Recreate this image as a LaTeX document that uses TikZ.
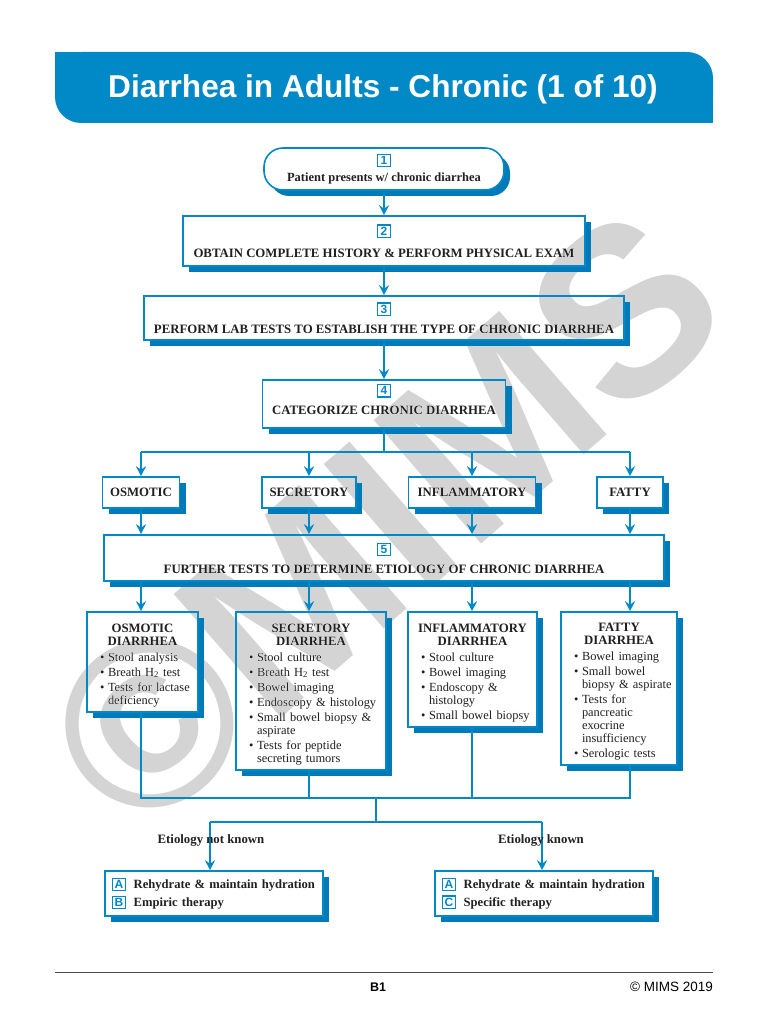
\documentclass[tikz,border=0pt]{standalone}
\usepackage{fontspec}
\setmainfont{Liberation Serif}
\newfontfamily\hv{Liberation Sans}
\usetikzlibrary{arrows.meta,shadows}
\definecolor{mainblue}{RGB}{0,137,198}
\definecolor{shadowblue}{RGB}{0,122,184}
\definecolor{txt}{RGB}{35,31,32}
\definecolor{wmgray}{RGB}{212,212,212}
\newcommand\bfont{\fontsize{12.8}{13}\selectfont\bfseries}
\newcommand\rfont{\fontsize{12.4}{13}\selectfont}
\newcommand\nbox[1]{{\setlength\fboxsep{1.5pt}\setlength\fboxrule{1.1pt}\fcolorbox{mainblue}{white}{\makebox[8.5pt]{\color{mainblue}\hv\fontsize{12}{12}\selectfont #1}}}}
\newcommand\bul[1]{\mbox{\makebox[8pt][l]{•}#1}}
\newcommand\cont[1]{\mbox{\hspace*{8pt}#1}}
\newcommand\ttl[1]{\makebox[\hsize]{\bfont #1}}
\newcommand\ttlA[1]{\makebox[\hsize]{\rule{0pt}{15pt}\bfont #1}}
\tikzset{
  bx/.style={draw=mainblue, line width=1.6pt, fill=white, text=txt,
    general shadow={fill=shadowblue, shadow xshift=6pt, shadow yshift=-6pt},
    inner sep=0pt, font=\bfont, align=center},
  dbx/.style={bx, align=left, inner xsep=13pt, font=\rfont},
  arr/.style={draw=mainblue, line width=2pt, -{Stealth[length=10pt,width=10pt,inset=3.5pt]}},
  ln/.style={draw=mainblue, line width=2pt},
  lbl/.style={font=\bfont, text=txt, inner sep=1pt}
}
\begin{document}
\begin{tikzpicture}[x=1pt,y=-1pt]
\useasboundingbox (0,0) rectangle (768,1024);
% header
\fill[mainblue, rounded corners=26pt] (55,52) rectangle (713,123);
\fill[mainblue] (55,52) rectangle (110,90);
\fill[mainblue] (660,90) rectangle (713,123);
\node[text=white, font=\hv\fontsize{31.6}{34}\selectfont\bfseries] (title) at (383,89) {Diarrhea in Adults - Chronic (1 of 10)};

% main boxes
\node[bx, rounded corners=19pt, minimum width=240pt, minimum height=42pt, font=\fontsize{12.5}{13}\selectfont\bfseries] (b1) at (384,169) {\nbox{1}\\[4pt] Patient presents w/ chronic diarrhea};
\node[bx, minimum width=402pt, minimum height=50pt] (b2) at (384,241) {\nbox{2}\\[9pt] OBTAIN COMPLETE HISTORY \& PERFORM PHYSICAL EXAM};
\node[bx, minimum width=480pt, minimum height=44pt] (b3) at (384,318) {\nbox{3}\\[7pt] PERFORM LAB TESTS TO ESTABLISH THE TYPE OF CHRONIC DIARRHEA};
\node[bx, minimum width=243pt, minimum height=48pt, text depth=9pt] (b4) at (384,404) {\nbox{4}\\[7pt] CATEGORIZE CHRONIC DIARRHEA};

% categories
\node[bx, minimum width=77pt, minimum height=31pt] (cosm) at (141,492.5) {OSMOTIC};
\node[bx, minimum width=94pt, minimum height=31pt] (csec) at (309,492.5) {SECRETORY};
\node[bx, minimum width=127pt, minimum height=31pt] (cinf) at (472,492.5) {INFLAMMATORY};
\node[bx, minimum width=66pt, minimum height=31pt] (cfat) at (630,492.5) {FATTY};

\node[bx, minimum width=560pt, minimum height=46pt] (b5) at (384,558) {\nbox{5}\\[7pt] FURTHER TESTS TO DETERMINE ETIOLOGY OF CHRONIC DIARRHEA};

% detail boxes
\node[dbx, minimum width=111pt, text width=85pt, minimum height=100pt] (dosm) at (142.5,662) {%
\ttlA{OSMOTIC}\\ \ttl{DIARRHEA}\\[3pt]
\bul{Stool analysis}\\[2pt]
\bul{Breath H\textsubscript{2} test}\\[2pt]
\bul{Tests for lactase}\\
\cont{deficiency}};
\node[dbx, minimum width=150pt, text width=124pt, minimum height=158pt] (dsec) at (311,691) {%
\ttlA{SECRETORY}\\ \ttl{DIARRHEA}\\[3pt]
\bul{Stool culture}\\[2pt]
\bul{Breath H\textsubscript{2} test}\\[2pt]
\bul{Bowel imaging}\\[2pt]
\bul{Endoscopy \& histology}\\[2pt]
\bul{Small bowel biopsy \&}\\
\cont{aspirate}\\[2pt]
\bul{Tests for peptide}\\
\cont{secreting tumors}};
\node[dbx, minimum width=129pt, text width=103pt, minimum height=115pt] (dinf) at (472.5,669.5) {%
\ttlA{INFLAMMATORY}\\ \ttl{DIARRHEA}\\[3pt]
\bul{Stool culture}\\[2pt]
\bul{Bowel imaging}\\[2pt]
\bul{Endoscopy \&}\\
\cont{histology}\\[2pt]
\bul{Small bowel biopsy}};
\node[dbx, minimum width=116pt, text width=90pt, minimum height=153pt] (dfat) at (619,688.5) {%
\ttlA{FATTY}\\ \ttl{DIARRHEA}\\[3pt]
\bul{Bowel imaging}\\[2pt]
\bul{Small bowel}\\
\cont{biopsy \& aspirate}\\[2pt]
\bul{Tests for}\\
\cont{pancreatic}\\
\cont{exocrine}\\
\cont{insufficiency}\\[2pt]
\bul{Serologic tests}};

% bottom boxes
\node[bx, align=left, inner xsep=7pt, text width=204pt, minimum width=218pt, minimum height=45pt, font=\fontsize{12.6}{13}\selectfont\bfseries] (lb) at (214,893.5) {\mbox{\nbox{A}\hspace{8pt}Rehydrate \& maintain hydration}\\[3pt]\mbox{\nbox{B}\hspace{8pt}Empiric therapy}};
\node[bx, align=left, inner xsep=7pt, text width=204pt, minimum width=218pt, minimum height=45pt, font=\fontsize{12.6}{13}\selectfont\bfseries] (rb) at (544,893.5) {\mbox{\nbox{A}\hspace{8pt}Rehydrate \& maintain hydration}\\[3pt]\mbox{\nbox{C}\hspace{8pt}Specific therapy}};

% connectors
\draw[arr] (b1) -- (b2);
\draw[arr] (b2) -- (b3);
\draw[arr] (b3) -- (b4);
\coordinate (s4) at (384,452);
\draw[ln] (b4.south) -- (s4);
\draw[ln] (s4 -| cosm) -- (s4 -| cfat);
\foreach \c in {cosm,csec,cinf,cfat}{
  \draw[arr] (s4 -| \c) -- (\c.north);
  \draw[arr] (\c.south) -- (\c.south |- b5.north);
}
\draw[arr] (b5.south -| cosm) -- (dosm.north -| cosm);
\draw[arr] (b5.south -| csec) -- (dsec.north -| csec);
\draw[arr] (b5.south -| cinf) -- (dinf.north -| cinf);
\draw[arr] (b5.south -| cfat) -- (dfat.north -| cfat);
\coordinate (j) at (376,798);
\draw[ln] (dosm.south -| cosm) -- (j -| cosm) -- (j -| cfat) -- (dfat.south -| cfat);
\draw[ln] (dsec.south -| csec) -- (j -| csec);
\draw[ln] (dinf.south -| cinf) -- (j -| cinf);
\coordinate (k) at (376,822);
\coordinate (kl) at (210,822);
\coordinate (kr) at (542,822);
\draw[ln] (j) -- (k);
\draw[ln] (kl) -- (kr);
\draw[arr] (kl) -- (kl |- lb.north);
\draw[arr] (kr) -- (kr |- rb.north);
\node[lbl] (l1) at (211,840) {Etiology not known};
\node[lbl] (l2) at (541,840) {Etiology known};

% footer
\draw[draw=black!70, line width=0.9pt] (55,972) coordinate (f1) -- (713,972) coordinate (f2);
\node[font=\hv\fontsize{12.5}{13}\selectfont\bfseries] (pg) at (378,987) {B1};
\node[font=\hv\fontsize{13.5}{14}\selectfont, anchor=east, inner sep=0pt] (cp) at (713,987) {© MIMS 2019};

% watermark
\node[rotate=41, text=wmgray, blend mode=darken, font=\hv\fontsize{238}{238}\selectfont\bfseries] (wm) at (384,520) {©MIMS};
\end{tikzpicture}
\end{document}
